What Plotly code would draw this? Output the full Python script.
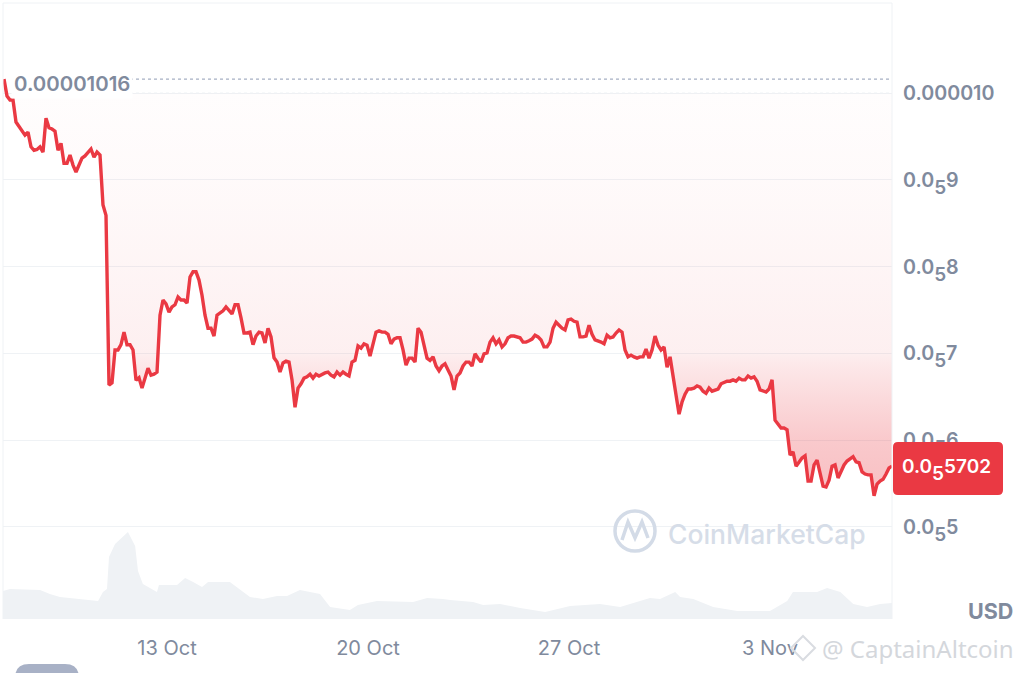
import pandas as pd
import plotly.graph_objects as go

# Price in millionths of a USD, sampled at a fixed interval
price_start = "2024-10-07 07:45"
price_step_seconds = 9028
price = [
10.16,9.965,9.92,9.92,9.665,9.62,9.56,9.515,9.55,9.38,9.34,9.35,9.38,9.32,9.71,9.60,9.585,9.56,9.34,9.42,
9.19,9.19,9.285,9.17,9.09,9.17,9.25,9.275,9.31,9.355,9.26,9.32,9.285,8.71,8.59,6.635,6.66,7.04,7.04,7.10,
7.245,7.10,7.10,7.04,6.69,6.72,6.60,6.72,6.83,6.75,6.76,6.785,7.44,7.615,7.57,7.475,7.535,7.56,7.65,7.615,
7.615,7.58,7.88,7.94,7.94,7.845,7.67,7.44,7.29,7.29,7.20,7.44,7.465,7.49,7.535,7.50,7.455,7.56,7.56,7.41,
7.235,7.235,7.245,7.10,7.20,7.245,7.235,7.12,7.29,7.19,6.95,6.90,6.785,6.89,6.91,6.90,6.695,6.38,6.60,6.65,
6.715,6.73,6.76,6.715,6.76,6.74,6.76,6.775,6.785,6.75,6.73,6.785,6.75,6.785,6.76,6.74,6.90,6.92,7.085,7.06,
7.11,7.095,6.97,7.095,7.245,7.26,7.245,7.245,7.22,7.11,7.165,7.18,7.18,7.04,6.865,6.945,6.945,6.90,7.29,7.245,
7.095,6.945,6.92,6.96,6.855,6.80,6.855,6.88,6.81,6.74,6.58,6.74,6.775,6.855,6.90,6.90,6.855,6.995,6.945,6.90,
6.995,7.005,7.13,7.18,7.11,7.155,7.075,7.11,7.18,7.20,7.20,7.19,7.18,7.13,7.13,7.145,7.165,7.21,7.19,7.155,
7.075,7.075,7.13,7.29,7.36,7.325,7.29,7.27,7.385,7.395,7.37,7.36,7.19,7.19,7.20,7.325,7.22,7.155,7.145,7.13,
7.11,7.21,7.18,7.19,7.235,7.27,7.245,7.04,6.96,6.98,6.96,6.945,6.96,6.96,7.05,6.945,7.04,7.20,7.095,7.04,
7.075,6.84,6.96,6.75,6.52,6.30,6.44,6.53,6.59,6.59,6.60,6.625,6.61,6.565,6.54,6.60,6.565,6.58,6.59,6.65,
6.67,6.68,6.68,6.695,6.68,6.715,6.695,6.695,6.74,6.715,6.73,6.68,6.58,6.565,6.555,6.59,6.695,6.23,6.19,6.14,
6.14,6.12,5.83,5.865,5.70,5.74,5.795,5.82,5.53,5.53,5.715,5.77,5.63,5.47,5.46,5.54,5.70,5.715,5.565,5.635,
5.715,5.76,5.785,5.81,5.75,5.74,5.635,5.61,5.60,5.60,5.36,5.495,5.53,5.55,5.61,5.68,5.702,
]

# Volume: days since 7 Oct 00:00, and relative volume
volume_days = [0.29,0.53,1.58,1.92,2.27,2.97,3.60,3.77,3.91,3.98,4.19,4.64,4.89,4.99,5.16,5.65,5.72,6.35,6.63,6.91,
7.22,7.43,8.19,8.89,9.34,9.83,10.18,10.63,11.33,11.68,12.37,12.65,13.31,14.57,15.06,15.61,15.86,16.66,17.01,17.60,
18.30,19.17,20.04,21.08,21.78,22.82,23.17,23.70,23.87,24.33,25.02,25.86,27.0,27.6,27.8,28.64,28.99,29.45,29.9,30.38,
30.84,31.25]
volume = [28,30,29,25,22,20,18,27,30,62,75,87,73,48,35,27,34,34,41,37,
32,37,37,22,20,23,23,29,25,12,9,14,18,17,21,20,19,17,14,15,
11,7,13,15,12,21,20,27,22,20,12,8,8,18,27,27,31,27,15,12,
15,16]

SUB5 = '<sub><sub><span style="font-size:19px">5</span></sub></sub>'
tick_dates = ["2024-10-13", "2024-10-20", "2024-10-27", "2024-11-03"]
tick_dates_text = ["13 Oct", "20 Oct", "27 Oct", "3 Nov"]
price_ticks = [10, 9, 8, 7, 6, 5]
price_tick_text = ["0.000010", "0.0" + SUB5 + "9", "0.0" + SUB5 + "8", "0.0" + SUB5 + "7", "0.0" + SUB5 + "6", "0.0" + SUB5 + "5"]
high_label = "0.00001016"
high_value = 10.16
last_label = "0.0" + SUB5 + "5702"
last_value = 5.702
fill_top = 10.0

W, H = 1024, 673
L, R, T, B = 3, 892, 3, 619
RED = "#ea3943"
GREY = "#808a9d"
GRID = "#eff2f5"
FONT = "Inter"

def px(x): return (x - L) / (R - L)
def py(y): return (B - y) / (B - T)

def round_rect(x0, y0, x1, y1, r):
    a, b, c, d = px(x0), px(x1), py(y0), py(y1)
    rx, ry = r / (R - L), r / (B - T)
    return (f"M{a+rx},{c} L{b-rx},{c} Q{b},{c} {b},{c-ry} L{b},{d+ry} Q{b},{d} {b-rx},{d} "
            f"L{a+rx},{d} Q{a},{d} {a},{d+ry} L{a},{c-ry} Q{a},{c} {a+rx},{c} Z")

dates = pd.date_range(price_start, periods=len(price), freq=f"{price_step_seconds}s")
vol_dates = [pd.Timestamp("2024-10-07") + pd.Timedelta(days=d) for d in volume_days]

fig = go.Figure()
fig.add_trace(go.Scatter(x=vol_dates, y=volume, yaxis="y2", mode="lines", line=dict(width=0),
                         fill="tozeroy", fillcolor=GRID, hoverinfo="skip", showlegend=False))
fig.add_trace(go.Scatter(x=dates, y=[fill_top] * len(price), mode="lines", line=dict(width=0),
                         hoverinfo="skip", showlegend=False))
fig.add_trace(go.Scatter(x=dates, y=price, mode="lines", line=dict(color=RED, width=3.4, shape="linear"),
                         fill="tonexty",
                         fillgradient=dict(type="vertical", start=10.0, stop=5.3,
                                           colorscale=[[0, "rgba(234,57,67,0.01)"], [0.21, "rgba(234,57,67,0.025)"],
                                                       [0.424, "rgba(234,57,67,0.05)"], [0.637, "rgba(234,57,67,0.08)"],
                                                       [0.66, "rgba(234,57,67,0.11)"], [0.752, "rgba(234,57,67,0.19)"],
                                                       [0.85, "rgba(234,57,67,0.27)"], [1, "rgba(234,57,67,0.33)"]]),
                         showlegend=False))

shapes = [
    dict(type="line", xref="paper", yref="paper", x0=0, x1=0, y0=0, y1=1, line=dict(color=GRID, width=1)),
    dict(type="line", xref="paper", yref="paper", x0=0, x1=1, y0=1, y1=1, line=dict(color=GRID, width=1)),
    dict(type="line", xref="paper", yref="paper", x0=1, x1=1, y0=0, y1=1, line=dict(color=GRID, width=1)),
    dict(type="line", xref="paper", yref="y", x0=px(130), x1=1, y0=high_value, y1=high_value,
         line=dict(color="#a6b0c3", width=1.2, dash="dot")),
    dict(type="line", xref="paper", yref="y", x0=px(130), x1=1, y0=fill_top, y1=fill_top,
         line=dict(color=GRID, width=1, dash="dot")),
    dict(type="path", xref="paper", yref="paper", path=round_rect(893, 442, 1003, 495, 5),
         fillcolor=RED, line=dict(width=0)),
    dict(type="path", xref="paper", yref="paper", path=round_rect(15, 664, 79, 700, 14),
         fillcolor="#a8b1c6", line=dict(width=0)),
    # CoinMarketCap mark
    dict(type="circle", xref="paper", yref="paper", x0=px(615), x1=px(655), y0=py(551), y1=py(511),
         line=dict(color="#d3dbe7", width=3.5)),
    dict(type="path", xref="paper", yref="paper",
         path=f"M{px(622)},{py(540)} L{px(628)},{py(522)} L{px(635)},{py(538)} L{px(642)},{py(522)} L{px(648)},{py(538)}",
         line=dict(color="#d3dbe7", width=3.5)),
    # Diamond mark beside the watermark
    dict(type="path", xref="paper", yref="paper",
         path=f"M{px(803)},{py(636)} L{px(815)},{py(648)} L{px(803)},{py(660)} L{px(791)},{py(648)} Z",
         line=dict(color="#d9dce1", width=2)),
]

annotations = [
    dict(text=high_label, xref="paper", yref="y", x=px(11), y=high_value - 0.05, xanchor="left", yanchor="middle",
         showarrow=False, bgcolor="white", borderpad=2, font=dict(family=FONT, size=20.4, color=GREY, weight=600)),
    dict(text=last_label, xref="paper", yref="paper", x=px(947), y=py(470), xanchor="center", yanchor="middle",
         showarrow=False, font=dict(family=FONT, size=19, color="white", weight=600)),
    dict(text="USD", xref="paper", yref="paper", x=px(990), y=py(611), xanchor="center", yanchor="middle",
         showarrow=False, font=dict(family=FONT, size=21.5, color=GREY, weight=700)),
    dict(text="CoinMarketCap", xref="paper", yref="paper", x=px(767), y=py(534), xanchor="center", yanchor="middle",
         showarrow=False, font=dict(family=FONT, size=26.5, color="#d6dde8", weight=500)),
    dict(text="@ CaptainAltcoin", xref="paper", yref="paper", x=px(918), y=py(648), xanchor="center", yanchor="middle",
         showarrow=False, font=dict(family="Noto Sans", size=24, color="#d4d7dc")),
]

fig.update_layout(
    width=W, height=H, autosize=False,
    margin=dict(l=L, r=W - R, t=T, b=H - B, pad=0),
    paper_bgcolor="white", plot_bgcolor="white", showlegend=False, font=dict(family=FONT),
    shapes=shapes, annotations=annotations,
    xaxis=dict(range=["2024-10-07 06:55", "2024-11-07 06:00"], type="date", tickmode="array",
               tickvals=tick_dates, ticktext=tick_dates_text, showgrid=False, zeroline=False, showline=False,
               ticks="", ticklabelstandoff=15, tickfont=dict(family=FONT, size=20, color=GREY)),
    yaxis=dict(range=[3.94, 11.037], side="right", tickmode="array", tickvals=price_ticks, ticktext=price_tick_text,
               showgrid=True, gridcolor=GRID, gridwidth=1, zeroline=False, showline=False, ticks="",
               ticklabelstandoff=10, tickfont=dict(family=FONT, size=19.7, color=GREY, weight=600)),
    yaxis2=dict(range=[0, 616], overlaying="y", visible=False),
)
fig.write_html("out.html", post_script="document.body.style.margin='0';", config=dict(displayModeBar=False))
